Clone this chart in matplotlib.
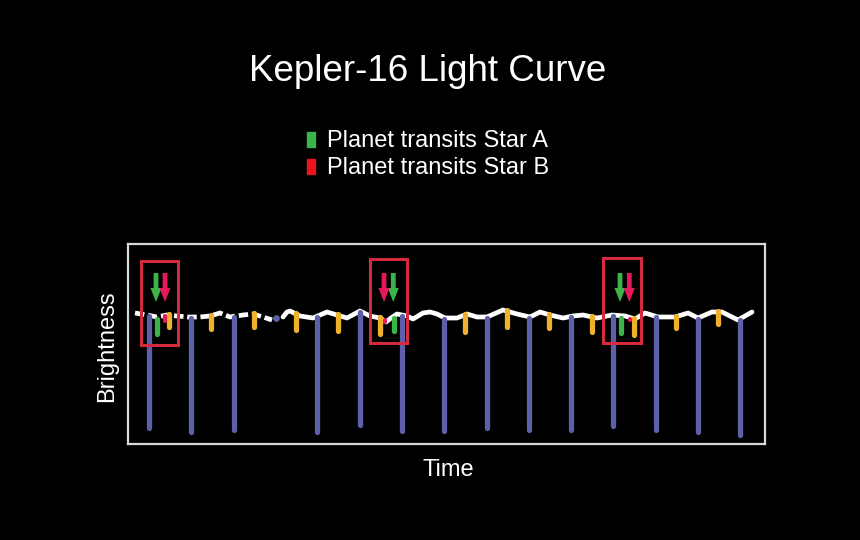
import numpy as np
import matplotlib
matplotlib.use("Agg")
import matplotlib.pyplot as plt
from matplotlib.patches import Rectangle, FancyArrow

plt.rcParams['font.family'] = ['Liberation Sans', 'DejaVu Sans']

# ---- data (time and brightness in arbitrary units) ----
# white light curve, first (dashed) segment
curve_a_t = [7, 19, 29, 39, 49, 60, 72, 82, 92, 102, 115, 125, 135, 144]
curve_a_b = [131, 129, 127, 129, 128, 127, 127, 128, 131, 127, 129, 130, 127, 124]
# white light curve, second (solid) segment
curve_b_t = [155, 159, 162, 172, 185, 199, 209, 219, 232, 242, 252, 258, 263, 269,
             279, 285, 295, 302, 309, 317, 329, 339, 349, 359, 375, 389, 402, 412,
             422, 435, 445, 455, 469, 474, 484, 497, 507, 517, 530, 547, 560, 570,
             584, 594, 610, 624]
curve_b_b = [127, 132, 133, 128, 126, 132, 129, 126, 133, 128, 126, 122, 126, 130,
             128, 125, 131, 132, 130, 126, 126, 130, 127, 127, 134, 130, 127, 132,
             129, 126, 128, 129, 126, 127, 129, 128, 125, 131, 127, 127, 131, 126,
             132, 132, 124, 132]

# primary eclipses (deep dips)
primary_t = [21, 63, 106, 189, 232, 274, 316, 359, 401, 443, 485, 528, 570, 612]
primary_b = [15.7, 12, 14, 11.7, 19, 13.3, 13, 16, 14, 14, 18.3, 14, 12, 9]
gap_point_t = [148]
gap_point_b = [126]

# secondary eclipses (shallow dips)
secondary_t = [41, 83, 126, 168, 210, 252, 337, 379, 421, 464, 506, 548, 590]
secondary_b = [116.7, 114.7, 116.7, 114, 113.3, 109.7, 112.3, 116.7, 115.7,
               111.7, 109, 115.7, 119.7]

# planet transits
transit_a_t = [29, 266, 493]
transit_a_b = [110, 113.3, 111]
transit_b_t = [37, 257, 502]
transit_b_b = [123, 124, 124]

# highlighted transit events (box ranges)
box_t0 = [12.7, 241.7, 475.3]
box_t1 = [50, 279, 513]
box_b0 = [99, 101, 101.3]
box_b1 = [183.3, 185, 185.7]

# arrows
arrow_a_t = [28, 265.3, 492]
arrow_b_t = [37, 256, 501.3]
arrow_top = 171
arrow_bottom = 142

title = "Kepler-16 Light Curve"
legend_labels = ["Planet transits Star A", "Planet transits Star B"]
xlabel = "Time"
ylabel = "Brightness"

# ---- colours ----
BG = "black"
WHITE = "white"
BLUE = "#5c60a8"
ORANGE = "#efb02c"
GREEN = "#3bb54a"
RED_ARROW = "#e6185a"
RED_LEG = "#e8141e"
BOX = "#d42a3c"

W, H = 860, 540
fig = plt.figure(figsize=(W / 100, H / 100), dpi=100, facecolor=BG)
ax = fig.add_axes([128 / W, (H - 444) / H, 637 / W, 200 / H])
ax.set_facecolor(BG)
ax.set_xlim(0, 637)
ax.set_ylim(0, 200)
ax.set_xticks([])
ax.set_yticks([])
for s in ax.spines.values():
    s.set_color("#d8d8d8")
    s.set_linewidth(1.6)

all_t = np.array(curve_a_t + curve_b_t, dtype=float)
all_b = np.array(curve_a_b + curve_b_b, dtype=float)

def level(t):
    return np.interp(t, all_t, all_b)

# light curve
ax.plot(curve_a_t, curve_a_b, color=WHITE, lw=3.4, linestyle=(0, (2.0, 0.8)),
        solid_capstyle='round', zorder=3)
ax.plot(curve_b_t, curve_b_b, color=WHITE, lw=3.4, solid_capstyle='round',
        solid_joinstyle='round', zorder=3)

# primary eclipses
for t, b in zip(primary_t, primary_b):
    ax.plot([t, t], [level(t) - 1, b], color=BLUE, lw=3.8,
            solid_capstyle='round', zorder=4)
ax.plot(gap_point_t, gap_point_b, 'o', color=BLUE, ms=3.8, zorder=4)

# secondary eclipses
for t, b in zip(secondary_t, secondary_b):
    ax.plot([t, t], [level(t) + 1, b], color=ORANGE, lw=3.8,
            solid_capstyle='round', zorder=4)

# planet transits
for t, b in zip(transit_a_t, transit_a_b):
    ax.plot([t, t], [level(t) - 2, b], color=GREEN, lw=3.8,
            solid_capstyle='round', zorder=4)
for t, b in zip(transit_b_t, transit_b_b):
    ax.plot([t, t], [level(t) - 1, b], color=RED_ARROW, lw=3.0,
            solid_capstyle='round', zorder=4)

# boxes
for t0, t1, b0, b1 in zip(box_t0, box_t1, box_b0, box_b1):
    ax.add_patch(Rectangle((t0, b0), t1 - t0, b1 - b0, fill=False,
                           edgecolor=BOX, lw=2.2, zorder=5))

# arrows
for ts, col in ((arrow_a_t, GREEN), (arrow_b_t, RED_ARROW)):
    for t in ts:
        ax.add_patch(FancyArrow(t, arrow_top, 0, arrow_bottom - arrow_top,
                                width=4.8, head_width=11, head_length=14,
                                length_includes_head=True, color=col,
                                lw=0, zorder=6))

# texts
fig.text(427.5 / W, 1 - 81 / H, title, color=WHITE, fontsize=26.5,
         ha='center', va='baseline')
legend_cols = [GREEN, RED_LEG]
legend_base = [146.7, 174.3]
for lab, col, yb in zip(legend_labels, legend_cols, legend_base):
    fig.patches.append(Rectangle((307 / W, 1 - yb / H), 8 / W, 15 / H,
                                 transform=fig.transFigure, color=col))
    fig.text(327 / W, 1 - yb / H, lab, color=WHITE, fontsize=17,
             ha='left', va='baseline')

fig.text(448 / W, 1 - 476 / H, xlabel, color=WHITE, fontsize=17,
         ha='center', va='baseline')
fig.text(107 / W, 1 - 346 / H, ylabel, color=WHITE, fontsize=17,
         ha='center', va='center', rotation=90)

fig.savefig("out.png", dpi=100, facecolor=BG)
